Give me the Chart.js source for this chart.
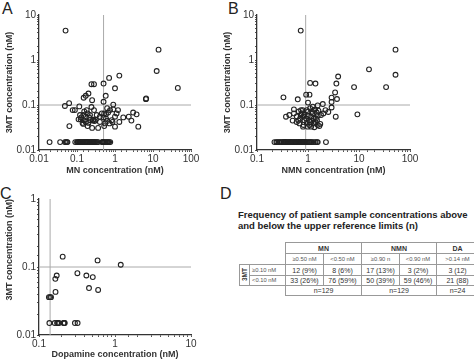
<!DOCTYPE html>
<html>
<head>
<meta charset="utf-8">
<script src="https://cdn.jsdelivr.net/npm/chart.js@4.4.0/dist/chart.umd.min.js"></script>
<style>
body{margin:0;width:474px;height:360px;overflow:hidden;background:#fff;position:relative;font-family:"Liberation Sans",Arial,sans-serif;color:#222}
canvas{position:absolute}
.lbl{position:absolute;font-size:16px;line-height:16px;color:#222}
#dtitle{position:absolute;left:238px;top:209px;font-size:9.5px;line-height:11px;font-weight:bold;color:#222;white-space:nowrap}
#freq{position:absolute;left:239px;top:242px;border-collapse:collapse;table-layout:fixed;width:239px;color:#333}
#freq td{border:1px solid #999;padding:0;text-align:center;white-space:nowrap;overflow:hidden;font-size:7px;line-height:9px}
#freq td.e{border:none}
#freq td.h{font-weight:bold;font-size:7px}
#freq td.s{font-size:5.8px;color:#555}
#freq td.r{font-size:5.8px;color:#555;text-align:left;padding-left:2px}
#freq td.v span{display:inline-block;writing-mode:vertical-rl;transform:rotate(180deg);font-weight:bold;font-size:6.5px}
</style>
</head>
<body>
<div class="lbl" style="left:2px;top:1px">A</div>
<div class="lbl" style="left:228px;top:1px">B</div>
<div class="lbl" style="left:0px;top:186px">C</div>
<div class="lbl" style="left:220px;top:186px">D</div>

<canvas id="chartA" width="215" height="180" style="left:0;top:0"></canvas>
<canvas id="chartB" width="256" height="180" style="left:218px;top:0"></canvas>
<canvas id="chartC" width="215" height="180" style="left:0;top:180px"></canvas>

<div id="dtitle">Frequency of patient sample concentrations above<br>and below the upper reference limits (n)</div>
<table id="freq"></table>

<script>
// ---------------- data ----------------
// A: MN vs 3MT (nM)
var mnX = [
  0.05, 0.24, 0.28, 0.2, 0.17, 0.15, 0.25, 0.062,
  14, 12.5, 45, 6.5, 6.6, 1.3, 0.7, 0.5, 1.0, 0.57, 0.5, 0.9,
  0.048, 0.077, 0.088, 0.115, 0.063, 0.12, 0.13, 0.147, 0.125, 0.15,
  0.17, 0.19, 0.18, 0.22, 0.24, 0.28, 0.22, 0.27, 0.31, 0.147,
  0.17, 0.14, 0.19, 0.25, 0.36, 0.40, 0.45, 0.40, 0.33, 0.11,
  0.155, 0.21, 0.26, 0.29, 0.2,
  0.019, 0.036, 0.048, 0.051, 0.054, 0.056, 0.09, 0.1, 0.105, 0.11,
  0.115, 0.12, 0.125, 0.13, 0.14, 0.145, 0.15, 0.16, 0.165, 0.17,
  0.18, 0.185, 0.19, 0.2, 0.21, 0.22, 0.23, 0.24, 0.25, 0.26,
  0.27, 0.28, 0.29, 0.3, 0.32, 0.34, 0.36, 0.46, 0.47, 0.48, 0.49,
  0.52, 0.58, 0.66, 0.74, 0.62, 0.9, 1.1, 1.0, 0.82, 0.62,
  0.55, 0.52, 0.72, 0.86, 1.0, 1.3, 1.65, 2.3, 3.0, 3.7,
  4.1, 2.7, 0.58, 0.5, 1.2,
  0.5, 0.53, 0.56, 0.6, 0.63, 0.66, 0.7, 0.75
];
var mnY = [
  4.5, 0.29, 0.29, 0.18, 0.16, 0.145, 0.128, 0.11,
  1.7, 0.57, 0.24, 0.135, 0.14, 0.45, 0.4, 0.3, 0.235, 0.16, 0.118, 0.102,
  0.095, 0.077, 0.077, 0.093, 0.034, 0.06, 0.053, 0.06, 0.048, 0.046,
  0.055, 0.065, 0.077, 0.06, 0.09, 0.077, 0.046, 0.047, 0.047, 0.038,
  0.042, 0.04, 0.034, 0.031, 0.031, 0.055, 0.065, 0.042, 0.06, 0.048,
  0.072, 0.053, 0.045, 0.044, 0.04,
  0.015, 0.015, 0.015, 0.015, 0.015, 0.015, 0.015, 0.015, 0.015, 0.015,
  0.015, 0.015, 0.015, 0.015, 0.015, 0.015, 0.015, 0.015, 0.015, 0.015,
  0.015, 0.015, 0.015, 0.015, 0.015, 0.015, 0.015, 0.015, 0.015, 0.015,
  0.015, 0.015, 0.015, 0.015, 0.015, 0.015, 0.015, 0.015, 0.015, 0.015, 0.015,
  0.065, 0.063, 0.068, 0.077, 0.085, 0.08, 0.065, 0.055, 0.046, 0.044,
  0.039, 0.034, 0.039, 0.042, 0.033, 0.042, 0.053, 0.055, 0.068, 0.062,
  0.033, 0.045, 0.05, 0.053, 0.077,
  0.015, 0.015, 0.015, 0.015, 0.015, 0.015, 0.015, 0.015
];

// B: NMN vs 3MT (nM)
var nmnX = [
  0.72, 0.33, 0.63,
  52, 52, 34, 15.7, 8.0, 3.9, 3.6, 3.4, 3.7, 2.9, 2.9, 1.4, 1.1, 0.92, 1.07, 1.0, 1.95,
  9.3, 2.9, 3.5, 2.2, 2.5, 1.55,
  0.92, 0.99, 1.06, 1.15, 1.24, 1.33, 1.43, 1.55, 1.33, 1.06,
  0.99, 1.15, 1.33, 1.55, 1.67, 1.74, 1.5, 1.0, 1.1, 1.24,
  1.38, 1.48, 0.95, 1.2, 1.3, 1.8, 2.0, 1.6, 1.1, 1.2, 0.95, 1.4,
  0.9, 0.95, 1.0, 1.05, 1.1, 1.15, 1.2, 1.3, 1.4, 1.5, 1.55, 2.25,
  0.37, 0.43, 0.53, 0.53, 0.5, 0.65, 0.68, 0.73, 0.8, 0.79,
  0.85, 0.75, 0.6, 0.7, 0.85, 0.82, 0.6, 0.72, 0.8, 0.66,
  0.22, 0.24, 0.25, 0.27, 0.28, 0.3, 0.31, 0.33, 0.34, 0.36,
  0.37, 0.39, 0.4, 0.42, 0.44, 0.46, 0.48, 0.5, 0.52, 0.54,
  0.56, 0.58, 0.6, 0.62, 0.64, 0.66, 0.68, 0.7, 0.72, 0.74,
  0.76, 0.78, 0.8, 0.82, 0.84, 0.86, 0.88, 0.35, 0.45
];
var nmnY = [
  4.5, 0.148, 0.134,
  1.7, 0.47, 0.25, 0.62, 0.25, 0.43, 0.3, 0.19, 0.136, 0.146, 0.117, 0.3, 0.31, 0.17, 0.17, 0.113, 0.105,
  0.062, 0.088, 0.055, 0.077, 0.07, 0.098,
  0.05, 0.058, 0.046, 0.055, 0.065, 0.077, 0.05, 0.058, 0.039, 0.036,
  0.033, 0.033, 0.032, 0.036, 0.034, 0.038, 0.046, 0.071, 0.085, 0.092,
  0.08, 0.068, 0.077, 0.071, 0.05, 0.06, 0.065, 0.075, 0.042, 0.045, 0.04, 0.042,
  0.015, 0.015, 0.015, 0.015, 0.015, 0.015, 0.015, 0.015, 0.015, 0.015, 0.015, 0.015,
  0.055, 0.06, 0.08, 0.065, 0.045, 0.045, 0.039, 0.077, 0.055, 0.077,
  0.06, 0.065, 0.042, 0.05, 0.046, 0.036, 0.056, 0.06, 0.033, 0.072,
  0.015, 0.015, 0.015, 0.015, 0.015, 0.015, 0.015, 0.015, 0.015, 0.015,
  0.015, 0.015, 0.015, 0.015, 0.015, 0.015, 0.015, 0.015, 0.015, 0.015,
  0.015, 0.015, 0.015, 0.015, 0.015, 0.015, 0.015, 0.015, 0.015, 0.015,
  0.015, 0.015, 0.015, 0.015, 0.015, 0.015, 0.015, 0.015, 0.015
];

// C: dopamine vs 3MT (nM)
var daX = [
  0.205, 0.59, 1.19,
  0.32, 0.42, 0.51, 0.171, 0.164, 0.165, 0.455, 0.60, 0.135, 0.14, 0.144,
  0.137, 0.161, 0.173, 0.178, 0.183, 0.21, 0.215, 0.218, 0.297, 0.322
];
var daY = [
  0.142, 0.125, 0.108,
  0.081, 0.075, 0.071, 0.075, 0.067, 0.043, 0.049, 0.046, 0.036, 0.036, 0.036,
  0.015, 0.015, 0.015, 0.015, 0.015, 0.015, 0.015, 0.015, 0.015, 0.015
];

// upper reference limits (grey lines)
var refMN = 0.5, refNMN = 0.9, refDA = 0.14, ref3MT = 0.1;

// D: table
var groups = ['MN', 'NMN', 'DA'];
var groupSpans = [2, 2, 1];
var cutoffs = ['\u22650.50 nM', '<0.50 nM', '\u22650.90 n', '<0.90 nM', '>0.14 nM'];
var rowLabels = ['\u22650.10 nM', '<0.10 nM'];
var highRow = ['12 (9%)', '8 (6%)', '17 (13%)', '3 (2%)', '3 (12)'];
var lowRow = ['33 (26%)', '76 (59%)', '50 (39%)', '59 (46%)', '21 (88)'];
var totals = ['n=129', 'n=129', 'n=24'];

// ---------------- charts ----------------
function logTick(v) {
  var l = Math.log10(v), r = Math.round(l);
  if (Math.abs(l - r) > 1e-6) return '';
  return r >= 0 ? String(Math.pow(10, r)) : Math.pow(10, r).toFixed(-r);
}

function panel(id, xs, ys, o) {
  var pts = xs.map(function (x, i) { return {x: x, y: ys[i]}; });
  new Chart(document.getElementById(id), {
    type: 'scatter',
    data: {datasets: [
      {data: pts, pointRadius: 2.4, pointBorderWidth: 1.1, borderColor: '#222', backgroundColor: 'rgba(0,0,0,0)', order: 1},
      {data: [{x: o.refX, y: o.y[0]}, {x: o.refX, y: o.y[1]}], showLine: true, pointRadius: 0, borderColor: '#aaa', borderWidth: 1, order: 2},
      {data: [{x: o.x[0], y: o.refY}, {x: o.x[1], y: o.refY}], showLine: true, pointRadius: 0, borderColor: '#aaa', borderWidth: 1, order: 2}
    ]},
    options: {
      responsive: false, animation: false, devicePixelRatio: 1, events: [],
      layout: {padding: o.pad},
      plugins: {legend: {display: false}, tooltip: {enabled: false}},
      scales: {
        x: {
          type: 'logarithmic', min: o.x[0], max: o.x[1],
          afterFit: function (s) { s.height = o.xh; },
          border: {color: '#333', width: 1.3},
          grid: {drawOnChartArea: false, tickLength: 2, color: '#555'},
          ticks: {autoSkip: false, maxRotation: 0, padding: 1, color: '#333', font: {size: 10}, callback: logTick},
          title: {display: true, text: o.xTitle, color: '#333', font: {size: 9, weight: 'bold'}, padding: {top: 0, bottom: o.tb}}
        },
        y: {
          type: 'logarithmic', min: o.y[0], max: o.y[1],
          afterFit: function (s) { s.width = o.yw; },
          border: {color: '#333', width: 1.3},
          grid: {drawOnChartArea: false, tickLength: 2, color: '#555'},
          ticks: {autoSkip: false, padding: 1, color: '#333', font: {size: 10}, callback: logTick},
          title: {display: true, text: '3MT concentration (nM)', align: o.ya, color: '#333', font: {size: 9, weight: 'bold'}, padding: {top: 4, bottom: 0}}
        }
      }
    }
  });
}

panel('chartA', mnX, mnY, {x: [0.01, 100], y: [0.01, 10], refX: refMN, refY: ref3MT,
  xTitle: 'MN concentration (nM)', pad: {top: 15, right: 24, left: 0, bottom: 0}, xh: 30, yw: 39, tb: 4, ya: 'center'});
panel('chartB', nmnX, nmnY, {x: [0.1, 100], y: [0.01, 10], refX: refNMN, refY: ref3MT,
  xTitle: 'NMN concentration (nM)', pad: {top: 15, right: 64, left: 0, bottom: 0}, xh: 30, yw: 39, tb: 4, ya: 'center'});
panel('chartC', daX, daY, {x: [0.1, 10], y: [0.01, 1], refX: refDA, refY: ref3MT,
  xTitle: 'Dopamine concentration (nM)', pad: {top: 19, right: 24, left: 0, bottom: 0}, xh: 25, yw: 39, tb: 0, ya: 'end'});

// ---------------- table ----------------
var html = '<colgroup><col style="width:10px"><col style="width:36px"><col style="width:38px"><col style="width:38px"><col style="width:38px"><col style="width:37px"><col style="width:42px"></colgroup>';
html += '<tr style="height:11px"><td class="e" colspan="2"></td>';
groups.forEach(function (g, i) { html += '<td class="h" colspan="' + groupSpans[i] + '">' + g + '</td>'; });
html += '</tr><tr style="height:11px"><td class="e" colspan="2"></td>';
cutoffs.forEach(function (c) { html += '<td class="s">' + c.replace('<', '&lt;') + '</td>'; });
html += '</tr><tr style="height:11px"><td class="v" rowspan="2"><span>3MT</span></td><td class="r">' + rowLabels[0] + '</td>';
highRow.forEach(function (c) { html += '<td>' + c + '</td>'; });
html += '</tr><tr style="height:10px"><td class="r">' + rowLabels[1].replace('<', '&lt;') + '</td>';
lowRow.forEach(function (c) { html += '<td>' + c + '</td>'; });
html += '</tr><tr style="height:10px"><td class="e" colspan="2"></td>';
totals.forEach(function (t, i) { html += '<td colspan="' + groupSpans[i] + '">' + t + '</td>'; });
html += '</tr>';
document.getElementById('freq').innerHTML = html;
</script>
</body>
</html>
